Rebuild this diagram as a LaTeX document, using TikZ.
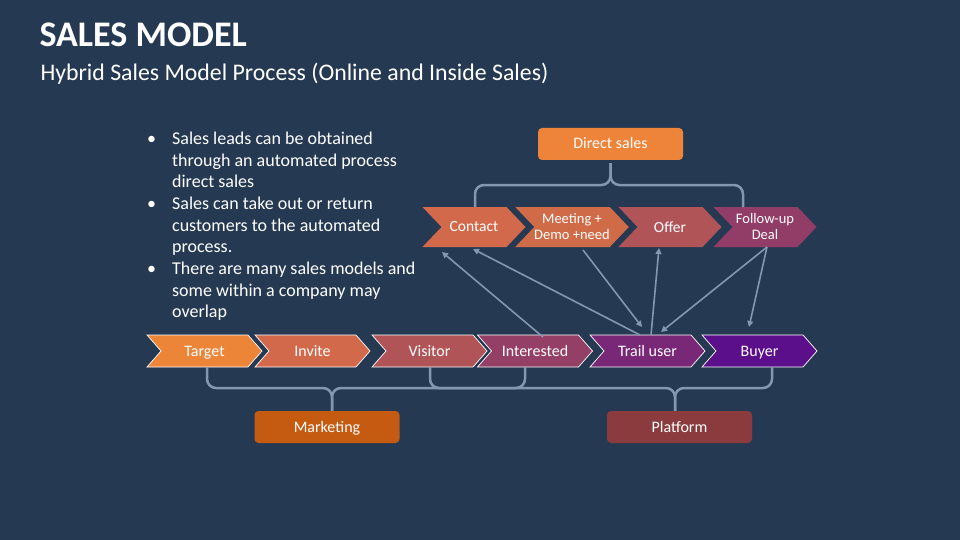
\documentclass[tikz,border=0pt]{standalone}
\usepackage{fontspec}
\setmainfont{Carlito}
\usetikzlibrary{shapes.symbols,calc,arrows.meta}
\definecolor{bg}{HTML}{253A52}
\definecolor{brc}{HTML}{8497B0}
\definecolor{cTarget}{HTML}{ED8539}
\definecolor{cInvite}{HTML}{D2694A}
\definecolor{cVisitor}{HTML}{B05457}
\definecolor{cInter}{HTML}{943F66}
\definecolor{cTrail}{HTML}{792877}
\definecolor{cBuyer}{HTML}{5B0F8B}
\definecolor{cContact}{HTML}{D2694A}
\definecolor{cMeet}{HTML}{D06B48}
\definecolor{cOffer}{HTML}{B05457}
\definecolor{cFollow}{HTML}{913D67}
\definecolor{cDirect}{HTML}{ED843A}
\definecolor{cMkt}{HTML}{C55A11}
\definecolor{cPlat}{HTML}{8B3A3E}
\tikzset{
  lowchev/.style={signal, signal from=west, signal to=east, signal pointer angle=97.6,
    minimum width=115pt, minimum height=32pt, inner sep=0pt, outer sep=0pt,
    text height=12.5pt, text depth=2.5pt,
    draw=white, line width=0.7pt, text=white, font=\fontsize{16}{18}\selectfont},
  topchev/.style={signal, signal from=west, signal to=east, signal pointer angle=93,
    minimum width=103pt, minimum height=40pt, inner sep=0pt, outer sep=0pt,
    text=white, align=center, font=\fontsize{15.5}{17}\selectfont},
  smallchev/.style={font=\fontsize{14.5}{16}\selectfont},
  groupbox/.style={rounded corners=4pt, minimum width=145pt, minimum height=32pt,
    inner sep=0pt, text height=12.5pt, text depth=2.5pt, text=white, font=\fontsize{16}{18}\selectfont},
  bracepath/.style={draw=brc, line width=2.5pt, rounded corners=9pt},
  flow/.style={draw=brc, line width=1.6pt, -{Triangle[length=6pt,width=6pt]}},
}
\begin{document}
\begin{tikzpicture}[x=1pt,y=-1pt]
\fill[bg] (0,0) rectangle (960,540);
\useasboundingbox (0,0) rectangle (960,540);

% titles
\node[anchor=west, text=white, font=\fontsize{36}{40}\selectfont\bfseries] (title) at (36,35) {SALES MODEL};
\node[anchor=west, text=white, font=\fontsize{23.8}{28}\selectfont] (sub) at (37,74) {Hybrid Sales Model Process (Online and Inside Sales)};

% bullets
\node[anchor=north west, text=white, inner sep=0pt, font=\fontsize{18}{21.7}\selectfont] (bul) at (147,129) {%
\begin{tabular}{@{}l@{\hspace{16pt}}l@{}}
\textbullet & Sales leads can be obtained\\
 & through an automated process\\
 & direct sales\\
\textbullet & Sales can take out or return\\
 & customers to the automated\\
 & process.\\
\textbullet & There are many sales models and\\
 & some within a company may\\
 & overlap
\end{tabular}};

% lower chevrons
\node[lowchev, fill=cTarget] (target) at (204.5,351) {Target};
\node[lowchev, fill=cInvite] (invite) at (312.5,351) {Invite};
\node[lowchev, fill=cVisitor] (visitor) at (429.5,351) {Visitor};
\node[lowchev, fill=cInter] (inter) at (535,351) {Interested};
\node[lowchev, fill=cTrail] (trail) at (647.5,351) {Trail user};
\node[lowchev, fill=cBuyer] (buyer) at (759.5,351) {Buyer};

% upper chevrons
\node[topchev, fill=cContact] (contact) at (474,227) {Contact};
\node[topchev, smallchev, fill=cMeet] (meet) at (572,227) {Meeting +\\Demo +need};
\node[topchev, fill=cOffer] (offer) at (670,227) {Offer};
\node[topchev, smallchev, fill=cFollow] (follow) at (765,227) {Follow-up\\Deal};

% group boxes
\node[groupbox, fill=cDirect] (direct) at (610.5,144) {Direct sales};
\node[groupbox, fill=cMkt] (mkt) at (327,427) {Marketing};
\node[groupbox, fill=cPlat] (plat) at (679.5,427) {Platform};

% braces
\coordinate (dsL) at ($(contact.north)+(1,0)$);
\coordinate (dsR) at ($(follow.north)+(-22,0)$);
\draw[bracepath] (dsL) -- ($(dsL|-0,185)$) -- ($(direct.south|-0,185)$) -- ($(direct.south)+(0,3)$);
\draw[bracepath] (dsR) -- ($(dsR|-0,185)$) -- ($(direct.south|-0,185)$) -- ($(direct.south)+(0,3)$);

\coordinate (mkL) at ($(target.south)+(2.5,0)$);
\coordinate (mkR) at ($(inter.south)+(-10,0)$);
\coordinate (mkC) at ($(mkt.north)+(5,0)$);
\draw[bracepath] (mkL) -- ($(mkL|-0,388)$) -- ($(mkC|-0,388)$) -- (mkC);
\draw[bracepath] (mkR) -- ($(mkR|-0,388)$) -- ($(mkC|-0,388)$) -- (mkC);

\coordinate (plL) at ($(visitor.south)+(0.5,0)$);
\coordinate (plR) at ($(buyer.south)+(12.5,0)$);
\coordinate (plC) at ($(plat.north)+(-4.5,0)$);
\draw[bracepath] (plL) -- ($(plL|-0,388)$) -- ($(plC|-0,388)$) -- (plC);
\draw[bracepath] (plR) -- ($(plR|-0,388)$) -- ($(plC|-0,388)$) -- (plC);

% flows
\draw[flow] ($(inter.north)+(8,2)$) -- ($(contact.south)+(-32,5)$);
\draw[flow] ($(trail.north)+(-7.5,0)$) -- ($(contact.south)+(-1,2)$);
\draw[flow] ($(meet.south)+(11,3)$) -- ($(trail.north)+(-5.5,-8)$);
\draw[flow] ($(trail.north)+(3.5,0)$) -- ($(offer.south)+(-11,1)$);
\draw[flow] ($(follow.south)+(2,0)$) -- ($(trail.north)+(13.5,-3)$);
\draw[flow] ($(follow.south)+(2,0)$) -- ($(buyer.north)+(-10.5,-8)$);
\end{tikzpicture}
\end{document}
